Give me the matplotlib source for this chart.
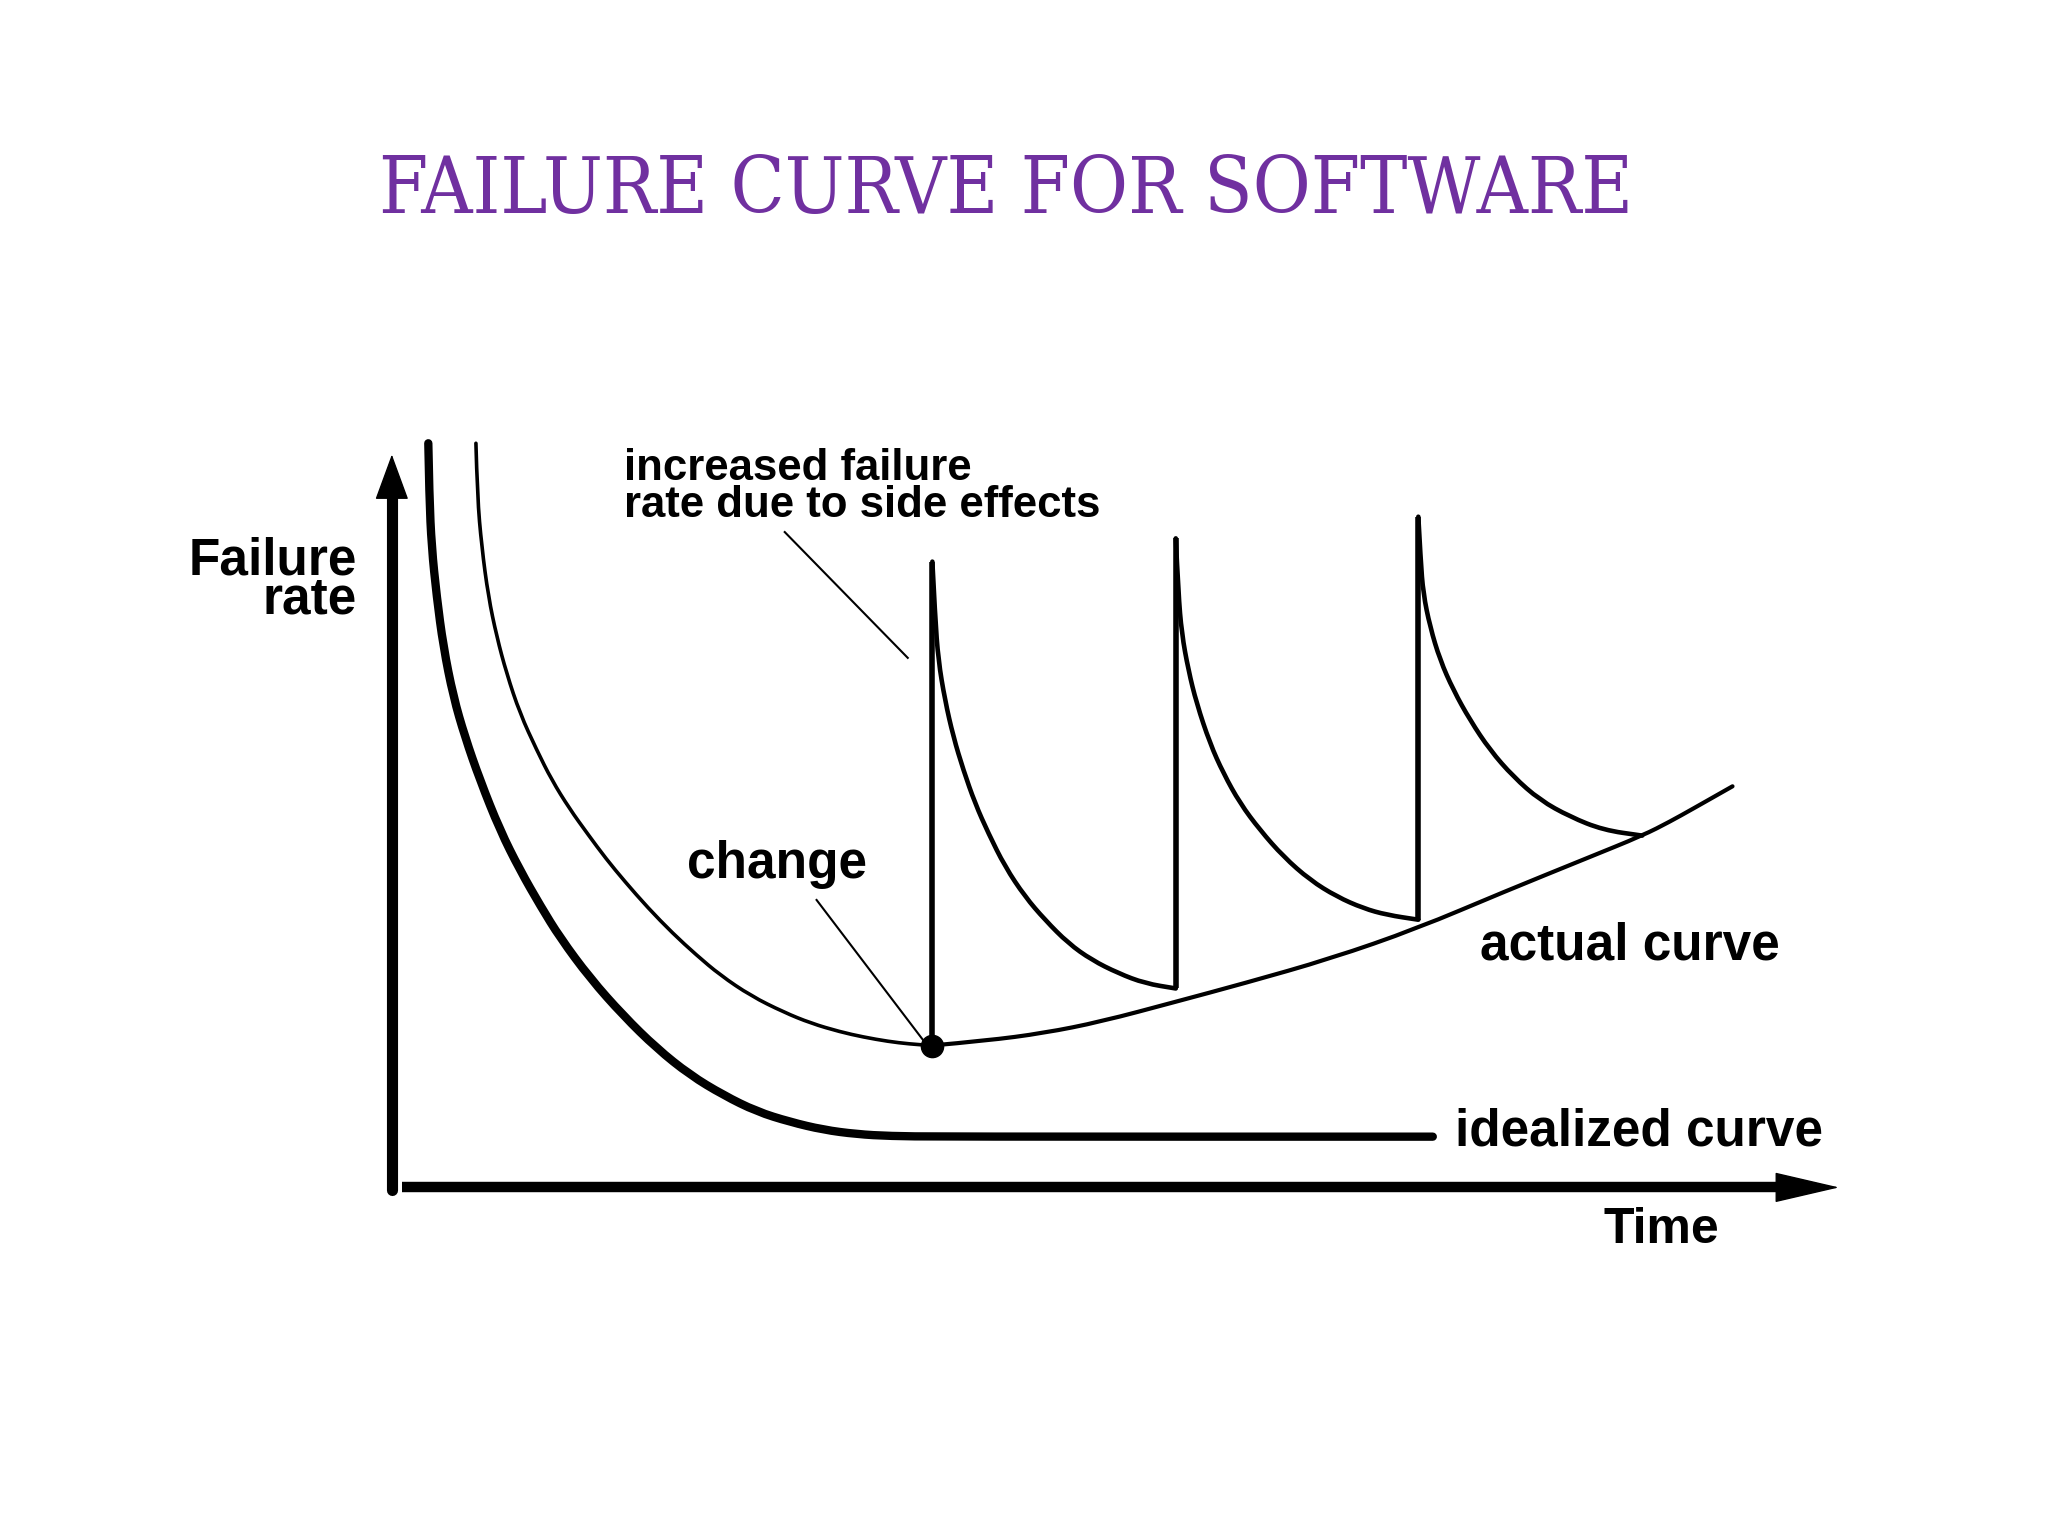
import matplotlib
matplotlib.use("Agg")
import matplotlib.pyplot as plt
from matplotlib import font_manager as fm
from matplotlib.path import Path
from matplotlib.patches import PathPatch, ArrowStyle
import numpy as np

# ---------------- data (time units vs failure-rate units) ----------------
ideal_t = [2.52, 2.59, 2.75, 3.10, 3.56, 4.25, 5.05, 6.09, 7.47, 8.85, 10.29,
           11.62, 13.69, 15.99, 18.30, 20.60, 22.91, 25.21, 27.51, 29.81,
           32.12, 34.42, 37.88, 71.93]
ideal_r = [50.77, 47.12, 43.70, 40.29, 36.87, 33.45, 30.71, 27.75, 24.33,
           21.60, 19.11, 16.98, 14.21, 11.65, 9.41, 7.59, 6.21, 5.09, 4.38,
           3.84, 3.54, 3.41, 3.37, 3.37]

early_t = [5.81, 5.91, 6.21, 6.67, 7.25, 7.93, 8.85, 10.01, 11.05, 12.27,
           13.54, 14.80, 16.11, 17.69, 19.40, 21.03, 22.68, 24.82, 27.08,
           28.97, 30.96, 32.58, 34.30, 35.74, 37.30]
early_r = [50.77, 47.12, 43.70, 40.29, 37.55, 35.04, 32.31, 29.80, 27.75,
           25.80, 24.05, 22.37, 20.80, 19.02, 17.28, 15.80, 14.42, 12.99,
           11.88, 11.12, 10.54, 10.18, 9.88, 9.71, 9.60]

wear_t = [37.30, 41.06, 45.04, 49.0, 54.16, 58.92, 64.87, 70.82, 76.81,
          82.58, 86.46, 88.32, 89.86, 92.64]
wear_r = [9.60, 9.93, 10.45, 11.23, 12.59, 13.86, 15.54, 17.59, 20.09,
          22.41, 23.97, 24.91, 25.76, 27.32]

spike_t = [37.35, 54.17, 70.93]
spike_base = [9.60, 13.50, 18.20]
spike_top = [42.68, 44.27, 45.75]

decay1_t = [37.35, 37.54, 37.76, 38.22, 38.80, 39.49, 40.30, 41.22, 42.37,
            43.75, 45.14, 46.74, 48.36, 50.20, 52.04, 54.17]
decay1_r = [42.68, 38.92, 35.96, 33.22, 30.71, 28.44, 26.16, 24.11, 21.83,
            19.78, 18.18, 16.59, 15.45, 14.54, 13.85, 13.50]
decay2_t = [54.17, 54.35, 54.58, 55.04, 55.61, 56.53, 57.46, 58.61, 59.99,
            61.61, 63.45, 65.29, 67.13, 68.75, 70.93]
decay2_r = [44.27, 40.51, 37.78, 35.27, 32.99, 30.26, 28.21, 26.16, 24.33,
            22.51, 20.91, 19.78, 18.98, 18.53, 18.20]
decay3_t = [70.93, 71.09, 71.27, 71.74, 72.43, 73.35, 74.50, 75.88, 77.49,
            79.33, 81.41, 83.71, 86.40]
decay3_r = [45.75, 42.79, 40.51, 38.23, 35.96, 33.90, 31.85, 29.80, 27.98,
            26.38, 25.24, 24.33, 23.95]

change_point = (37.3, 9.6)
side_leader_t = [27.15, 35.65]
side_leader_r = [44.7, 36.1]
change_leader_t = [29.35, 36.85]
change_leader_r = [19.55, 9.79]

title_text = "FAILURE CURVE FOR SOFTWARE"
ylabel_text = "Failure\nrate"
side_text = "increased failure\nrate due to side effects"
change_label = "change"
actual_label = "actual curve"
ideal_label = "idealized curve"
xlabel_text = "Time"

# ---------------- figure ----------------
W, H = 1568.0, 1176.0
fig = plt.figure(figsize=(20.48, 15.36), dpi=100)
fig.patch.set_facecolor("white")
ax = fig.add_axes([300 / W, 1 - 908 / H, 1108 / W, 560 / H])
ax.set_xlim(0, 100)
ax.set_ylim(0, 50)
ax.axis("off")

LAB = "Liberation Sans"


def smooth_curve(xs, ys, lw):
    pts = np.column_stack([xs, ys])
    verts = [pts[0]]
    codes = [Path.MOVETO]
    for i in range(1, len(pts) - 1):
        verts += [pts[i], (pts[i] + pts[i + 1]) / 2]
        codes += [Path.CURVE3, Path.CURVE3]
    verts.append(pts[-1])
    codes.append(Path.LINETO)
    ax.add_patch(PathPatch(Path(verts, codes), fill=False, lw=lw, ec="black",
                           capstyle="round", joinstyle="round", clip_on=False))


# axes with arrows
ax.plot([0, 0], [-0.25, 47.0], color="black", lw=8, solid_capstyle="round",
        clip_on=False)
ax.annotate("", xy=(0, 50), xytext=(0, 40),
            arrowprops=dict(arrowstyle=ArrowStyle("-|>", head_length=30, head_width=11),
                            mutation_scale=1, lw=1, color="black",
                            shrinkA=0, shrinkB=0), annotation_clip=False)
ax.plot([0.7, 96.0], [-0.1, -0.1], color="black", lw=7.5, solid_capstyle="butt",
        clip_on=False)
ax.annotate("", xy=(100, -0.1), xytext=(85, -0.1),
            arrowprops=dict(arrowstyle=ArrowStyle("-|>", head_length=43, head_width=10),
                            mutation_scale=1, lw=1, color="black",
                            shrinkA=0, shrinkB=0), annotation_clip=False)

# curves
smooth_curve(ideal_t, ideal_r, 6.0)
smooth_curve(early_t, early_r, 2.6)
smooth_curve(wear_t, wear_r, 3.0)
for dt, dr in [(decay1_t, decay1_r), (decay2_t, decay2_r), (decay3_t, decay3_r)]:
    smooth_curve(dt, dr, 3.3)
for st, sb, stp in zip(spike_t, spike_base, spike_top):
    ax.plot([st, st], [sb, stp], color="black", lw=4.0, solid_capstyle="butt",
            clip_on=False)
ax.plot([change_point[0]], [change_point[1]], "o", color="black", ms=16,
        clip_on=False)

# leader lines
ax.plot(side_leader_t, side_leader_r, color="black", lw=1.5, clip_on=False)
ax.plot(change_leader_t, change_leader_r, color="black", lw=1.5, clip_on=False)

# labels (va='baseline' anchors the last line of multi-line text)
ax.text(-2.44, 39.1, ylabel_text, ha="right", va="baseline", fontsize=37,
        family=LAB, weight="bold", multialignment="right", linespacing=0.76)
ax.text(16.06, 45.7, side_text, ha="left", va="baseline", fontsize=31.5,
        family=LAB, weight="bold", multialignment="left", linespacing=0.90)
ax.text(20.4, 21.07, change_label, ha="left", va="baseline", fontsize=37,
        family=LAB, weight="bold")
ax.text(75.18, 15.45, actual_label, ha="left", va="baseline", fontsize=37,
        family=LAB, weight="bold")
ax.text(73.47, 2.77, ideal_label, ha="left", va="baseline", fontsize=37,
        family=LAB, weight="bold")
ax.text(83.75, -3.93, xlabel_text, ha="left", va="baseline", fontsize=36,
        family=LAB, weight="bold")

# title font choice
entries = {(f.name, f.stretch) for f in fm.fontManager.ttflist}
if ("DejaVu Serif", "condensed") in entries:
    tfam, tstretch = "DejaVu Serif", "condensed"
elif any(n == "Liberation Sans Narrow" for n, s in entries):
    tfam, tstretch = "Liberation Sans Narrow", "condensed"
else:
    tfam, tstretch = "Liberation Serif", "normal"

title = fig.text(770 / W, 1 - 163 / H, title_text, ha="center", va="baseline",
                 fontsize=80, color="#7030A0", family=tfam, stretch=tstretch)
fig.canvas.draw()
bb = title.get_window_extent(renderer=fig.canvas.get_renderer())
title.set_fontsize(80 * (960 * 2048 / W) / bb.width)

fig.savefig("out.png", dpi=100, facecolor="white")
